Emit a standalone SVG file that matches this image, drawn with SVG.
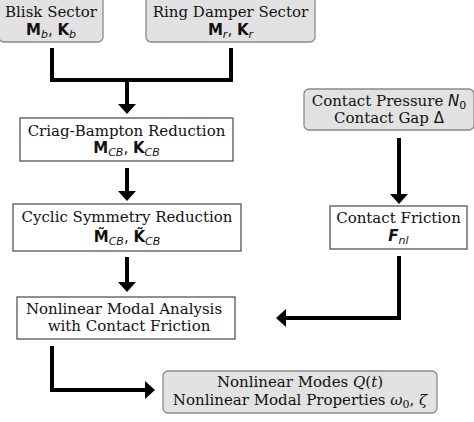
<svg xmlns="http://www.w3.org/2000/svg" width="474" height="422" viewBox="0 0 474 422">
<style>
.gbox{fill:#e2e2e2;stroke:#8a8a8a;stroke-width:1.3}
.wbox{fill:#ffffff;stroke:#555555;stroke-width:1.3}
.t{font-family:"DejaVu Serif","Liberation Serif",serif;font-size:15px;fill:#111;text-anchor:middle}
.m{font-family:"DejaVu Sans","Liberation Sans",sans-serif;font-size:15px;fill:#111;text-anchor:middle}
.b{font-weight:bold}
.i{font-style:italic}
.sub{font-size:11px}
.c{fill:none;stroke:#000;stroke-width:4}
</style>
<defs>
<marker id="ah" markerUnits="userSpaceOnUse" markerWidth="20" markerHeight="20" viewBox="0 0 20 20" refX="0" refY="10" orient="auto">
<path d="M0,1 L10,10 L0,19 Z" fill="#000"/>
</marker>
</defs>
<rect width="474" height="422" fill="#fff"/>
<g id="connectors">
<polyline class="c" points="52,48 52,80 231,80 231,48"/>
<line class="c" x1="127" y1="80" x2="127" y2="104" marker-end="url(#ah)"/>
<line class="c" x1="127" y1="168" x2="127" y2="191" marker-end="url(#ah)"/>
<line class="c" x1="127" y1="257" x2="127" y2="282" marker-end="url(#ah)"/>
<line class="c" x1="399" y1="138" x2="399" y2="194" marker-end="url(#ah)"/>
<polyline class="c" points="399,256 399,318 286,318" marker-end="url(#ah)"/>
<polyline class="c" points="52,346 52,390 145,390" marker-end="url(#ah)"/>
</g>
<g id="blisk">
<rect class="gbox" x="-1" y="-6" width="104" height="48" rx="5"/>
<text class="t" x="51" y="17">Blisk Sector</text>
<text class="m" x="51" y="35"><tspan class="b">M</tspan><tspan class="i sub" dy="3">b</tspan><tspan dy="-3">, </tspan><tspan class="b">K</tspan><tspan class="i sub" dy="3">b</tspan></text>
</g>
<g id="ring">
<rect class="gbox" x="146" y="-6" width="169" height="48" rx="5"/>
<text class="t" x="230.5" y="17">Ring Damper Sector</text>
<text class="m" x="230.5" y="35"><tspan class="b">M</tspan><tspan class="i sub" dy="3">r</tspan><tspan dy="-3">, </tspan><tspan class="b">K</tspan><tspan class="i sub" dy="3">r</tspan></text>
</g>
<g id="craig">
<rect class="wbox" x="20" y="118" width="213" height="43"/>
<text class="t" x="126.5" y="136">Criag-Bampton Reduction</text>
<text class="m" x="126.5" y="153"><tspan class="b">M</tspan><tspan class="i sub" dy="3">CB</tspan><tspan dy="-3">, </tspan><tspan class="b">K</tspan><tspan class="i sub" dy="3">CB</tspan></text>
</g>
<g id="cyclic">
<rect class="wbox" x="13" y="204" width="228" height="47"/>
<text class="t" x="127" y="222">Cyclic Symmetry Reduction</text>
<text class="m" x="127" y="242"><tspan class="b">M̃</tspan><tspan class="i sub" dy="3">CB</tspan><tspan dy="-3">, </tspan><tspan class="b">K̃</tspan><tspan class="i sub" dy="3">CB</tspan></text>
</g>
<g id="nma">
<rect class="wbox" x="17" y="297" width="218" height="42"/>
<text class="t" x="124" y="314">Nonlinear Modal Analysis</text>
<text class="t" x="129" y="331">with Contact Friction</text>
</g>
<g id="pressure">
<rect class="gbox" x="304" y="89" width="170" height="41" rx="5"/>
<text class="t" x="389" y="106">Contact Pressure <tspan class="i" font-family="DejaVu Sans, sans-serif">N</tspan><tspan font-family="DejaVu Sans, sans-serif" font-size="11" dy="3">0</tspan></text>
<text class="t" x="389" y="123">Contact Gap <tspan font-family="DejaVu Sans, sans-serif">Δ</tspan></text>
</g>
<g id="friction">
<rect class="wbox" x="330" y="206" width="137" height="43"/>
<text class="t" x="398.5" y="223">Contact Friction</text>
<text class="m" x="398.5" y="241"><tspan class="b i">F</tspan><tspan class="i sub" dy="3">nl</tspan></text>
</g>
<g id="results">
<rect class="gbox" x="163" y="371" width="274" height="42" rx="5"/>
<text class="t" x="300" y="387">Nonlinear Modes <tspan class="i">Q</tspan>(<tspan class="i">t</tspan>)</text>
<text class="t" x="300" y="405">Nonlinear Modal Properties <tspan class="i">ω</tspan><tspan font-size="11" dy="3">0</tspan><tspan dy="-3">, </tspan><tspan class="i">ζ</tspan></text>
</g>
</svg>
